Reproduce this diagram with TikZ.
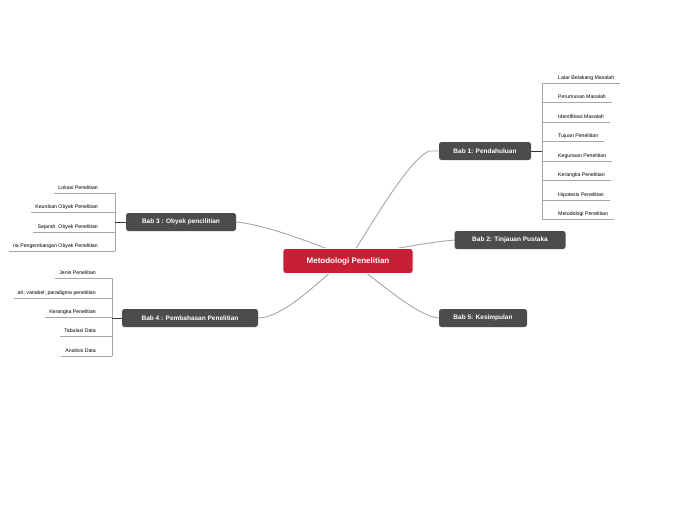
\documentclass[tikz,border=0pt]{standalone}
\usepackage{fontspec}
\setmainfont{Liberation Sans}
\definecolor{crim}{HTML}{C81E36}
\begin{document}
\begin{tikzpicture}[x=1pt,y=-1pt,
  main/.style={draw=white,line width=0.6pt,fill=crim,rounded corners=3pt,text=white,font=\bfseries\fontsize{8}{9}\selectfont,minimum width=130pt,minimum height=25pt,inner sep=0pt},
  bab/.style={fill=black!70,rounded corners=2.5pt,text=white,font=\bfseries\fontsize{6.5}{7.5}\selectfont,minimum height=18pt,inner sep=0pt},
  leaf/.style={font=\fontsize{5.2}{6}\selectfont,inner sep=0pt},
  conn/.style={draw=black!35,line width=0.9pt},
  tree/.style={draw=black!35,line width=0.5pt},
  stub/.style={draw=black!80,line width=0.8pt}]
\useasboundingbox (0,0) rectangle (697,520);
\clip (0,0) rectangle (697,520);
\fill[white] (0,0) rectangle (697,520);
\draw[conn] (355,250) .. controls (380,210) and (410,160) .. (429,151) -- (439,151);
\draw[conn] (360,255) .. controls (400,248) and (430,242) .. (455,240);
\draw[conn] (330,250) .. controls (300,238) and (260,224) .. (236,222);
\draw[conn] (333,270) .. controls (310,290) and (280,318) .. (258,318);
\draw[conn] (365,272) .. controls (395,295) and (420,316) .. (439,318);
\node[main] (m) at (348,261) {Metodologi Penelitian};
\node[bab,minimum width=92pt] (b1) at (485,151) {Bab 1: Pendahuluan};
\node[bab,minimum width=111pt] (b2) at (510,240) {Bab 2: Tinjauan Pustaka};
\node[bab,minimum width=110pt] (b3) at (181,222) {Bab 3 : Obyek pencilitian};
\node[bab,minimum width=136pt] (b4) at (190,318) {Bab 4 : Pembahasan Penelitian};
\node[bab,minimum width=88pt] (b5) at (483,318) {Bab 5: Kesimpulan};
% Bab 1 children
\draw[tree] (542,83) -- (542,220);
\draw[stub] (b1.east) -- (542,151);
\foreach \y/\t in {78/Latar Belakang Masalah,97/Perumusan Masalah,117/Identifikasi Masalah,136/Tujuan Penelitian,156/Kegunaan Penelitian,175/Kerangka Penelitian,195/Hipotesis Penelitian,214/Metodologi Penelitian}{
  \node[leaf,anchor=west] (n\y) at (558,\y) {\t};
  \coordinate (a\y) at (542,\y+5);
  \draw[tree] (a\y) -- ([xshift=6pt]a\y -| n\y.east);
}
% Bab 3 children
\draw[tree] (115,193) -- (115,251);
\draw[stub] (b3.west) -- (115,222);
\foreach \y/\t in {188/Lokasi Penelitian,207/Keunikan Obyek Penelitian,227/Sejarah\ \ Obyek Penelitian,246/na Pengembangan Obyek Penelitian}{
  \node[leaf,anchor=east] (p\y) at (98,\y) {\t};
  \coordinate (r\y) at (115,\y+5);
  \draw[tree] ([xshift=-4pt]r\y -| p\y.west) -- (r\y);
}
% Bab 4 children
\draw[tree] (112,278) -- (112,356);
\draw[stub] (b4.west) -- (112,318);
\foreach \y/\t in {273/Jenis Penelitian,293/ah; variabel; paradigma penelitian,312/Kerangka Penelitian,331/Tabulasi Data,351/Analisis Data}{
  \node[leaf,anchor=east] (q\y) at (96,\y) {\t};
  \coordinate (s\y) at (112,\y+5);
  \draw[tree] ([xshift=-4pt]s\y -| q\y.west) -- (s\y);
}
\end{tikzpicture}
\end{document}
